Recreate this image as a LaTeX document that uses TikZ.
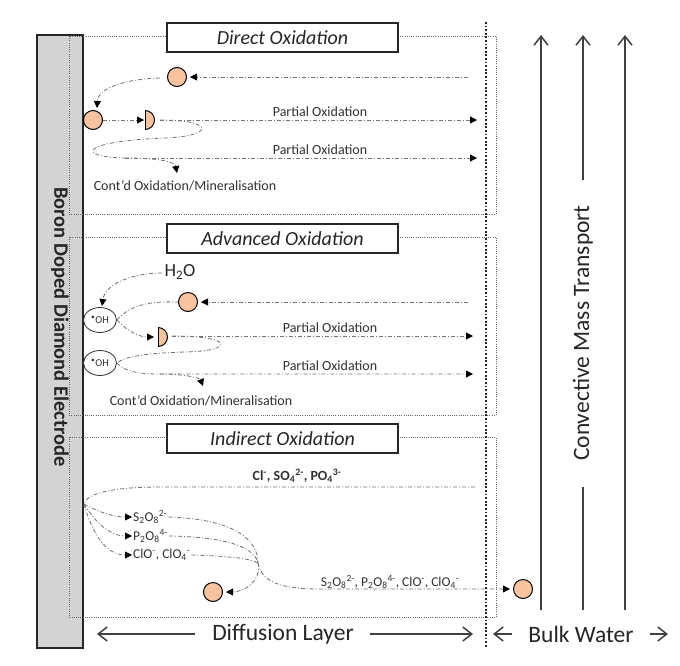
\documentclass[tikz,border=0pt]{standalone}
\usepackage{fontspec}
\setmainfont{Carlito}
\usetikzlibrary{arrows.meta,shapes.geometric}
\definecolor{peach}{RGB}{248,196,160}
\definecolor{elgray}{RGB}{211,211,211}
\definecolor{flowgray}{RGB}{115,115,115}
\definecolor{txt}{RGB}{50,50,50}
\newcommand{\halfdisc}[1]{%
  \begin{scope}
    \clip ([yshift=12pt]#1) rectangle ([xshift=12pt,yshift=-12pt]#1);
    \node[mol] at (#1) {};
  \end{scope}
  \draw[line width=1pt] ([yshift=9.5pt]#1) -- ([yshift=-9.5pt]#1);}
\begin{document}
\begin{tikzpicture}[x=1pt,y=-1pt,
  flow/.style={draw=flowgray, line width=0.8pt, dash pattern=on 4pt off 2pt on 1pt off 2pt},
  fl/.style={flow, -{Triangle[length=7pt,width=7pt,color=black]}},
  mol/.style={circle, draw=black, line width=1pt, fill=peach, minimum size=19pt, inner sep=0pt},
  oh/.style={ellipse, draw=txt, line width=0.8pt, fill=white, minimum width=33pt, minimum height=25pt, inner sep=0pt, font=\fontsize{10.5}{12}\selectfont, text=txt},
  panel/.style={draw=black!60, line width=0.9pt, dash pattern=on 1pt off 1.2pt},
  titlebox/.style={draw=black!85, line width=1.3pt, fill=white, minimum width=231pt, minimum height=29pt, inner sep=0pt, font=\fontsize{20}{23}\selectfont\itshape, text=black!85},
  boundary/.style={draw=black!85, line width=2.6pt, dash pattern=on 1.8pt off 1.8pt},
  conv/.style={draw=black!75, line width=1.5pt, -{Straight Barb[length=9pt,width=14pt]}},
  convline/.style={draw=black!75, line width=1.5pt},
  big/.style={font=\fontsize{23.5}{28}\selectfont, text=black!85, inner sep=0pt},
  lbl/.style={font=\fontsize{14}{16}\selectfont, text=txt, inner sep=1pt},
  sm/.style={font=\fontsize{13.5}{16}\selectfont, text=txt, inner sep=1pt},
  bl/.style={font=\fontsize{14}{16}\selectfont\bfseries, text=txt, inner sep=1pt}]
\useasboundingbox[fill=white] (0,0) rectangle (680,665);

% electrode
\draw[fill=elgray, draw=black!85, line width=1.5pt] (37,35) rectangle (83,648);
\node[rotate=-90, font=\fontsize{20.5}{24}\selectfont\bfseries, text=black!85] (elab) at (60,327) {Boron Doped Diamond Electrode};

% panels
\draw[panel] (69,36) rectangle (496,214);
\draw[panel] (69,237) rectangle (496,415);
\draw[panel] (69,437) rectangle (496,617);
\node[titlebox] (t1) at (282.5,37.5) {Direct Oxidation};
\node[titlebox] (t2) at (282.5,238.5) {Advanced Oxidation};
\node[titlebox] (t3) at (282.5,438.5) {Indirect Oxidation};

% boundary
\coordinate (bt) at (486,22);
\coordinate (bb) at (486,648);
\draw[boundary] (bt) -- (bb);

% convective arrows
\coordinate (c1b) at (541,610); \coordinate (c1t) at (541,35);
\coordinate (c2b) at (583,610); \coordinate (c2l) at (583,487);
\coordinate (c2m) at (583,180); \coordinate (c2t) at (583,35);
\coordinate (c3b) at (625,610); \coordinate (c3t) at (625,35);
\draw[conv] (c1b) -- (c1t);
\draw[conv] (c2m) -- (c2t);
\draw[convline] (c2b) -- (c2l);
\draw[conv] (c3b) -- (c3t);
\node[big, rotate=90] (cmt) at (583,333) {Convective Mass Transport};

% diffusion / bulk
\node[big] (dl) at (283,634) {Diffusion Layer};
\node[big] (bw) at (581,634) {Bulk Water};
\coordinate (dla) at (195,634); \coordinate (dlb) at (97,634);
\coordinate (dlc) at (370,634); \coordinate (dld) at (473,634);
\coordinate (bwa) at (512,634); \coordinate (bwb) at (493,634);
\coordinate (bwc) at (650,634); \coordinate (bwd) at (668,634);
\draw[conv] (dla) -- (dlb);
\draw[conv] (dlc) -- (dld);
\draw[conv] (bwa) -- (bwb);
\draw[conv] (bwc) -- (bwd);

% ---------- Direct oxidation
\node[mol] (d1) at (177,77) {};
\node[mol] (d2) at (93,120) {};
\coordinate (h1) at (145,120);
\coordinate (d1src) at (468,77);
\coordinate (d1l) at (160,78);
\coordinate (h1r) at (160,120);
\coordinate (p1) at (477,120);
\coordinate (dj) at (125,158);
\coordinate (p2) at (477,158);
\coordinate (m1) at (177,173);
\draw[fl, shorten >=3pt] (d1src) -- (d1);
\draw[fl] (d1l) .. controls (125,79) and (98,88) .. (97,108);
\draw[fl, shorten >=1pt] (d2) -- (h1);
\halfdisc{h1}
\draw[fl] (h1r) -- (p1);
\draw[flow] (h1r) .. controls (215,120) and (215,136) .. (165,138) .. controls (80,141) and (75,157) .. (dj);
\draw[fl] (dj) -- (p2);
\draw[fl] (dj) .. controls (160,158) and (175,162) .. (m1);
\node[lbl] (lp1) at (320,112) {Partial Oxidation};
\node[lbl] (lp2) at (320,150) {Partial Oxidation};
\node[lbl] (lc1) at (185,186) {Cont’d Oxidation/Mineralisation};

% ---------- Advanced oxidation
\node[font=\fontsize{18.5}{22}\selectfont, text=black!85, inner sep=1pt] (w) at (180,272) {H\textsubscript{2}O};
\node[oh] (o1) at (100,320) {\textsuperscript{\textbullet}OH};
\node[oh] (o2) at (100,363) {\textsuperscript{\textbullet}OH};
\node[mol] (a1) at (188,302) {};
\coordinate (a1src) at (468,302);
\coordinate (wl) at (162,273);
\coordinate (h2) at (158,337);
\coordinate (h2r) at (172,336);
\coordinate (p3) at (473,336);
\coordinate (dj2) at (160,374);
\coordinate (p4) at (473,374);
\coordinate (m2) at (203,386);
\draw[fl, shorten >=3pt] (a1src) -- (a1);
\draw[fl] (wl) .. controls (130,273) and (105,285) .. (102,306);
\draw[flow] (o1.east) .. controls (130,305) and (150,301) .. (a1.west);
\draw[fl, shorten >=4pt] (o1.east) .. controls (128,332) and (140,337) .. (h2);
\halfdisc{h2}
\draw[fl] (h2r) -- (p3);
\draw[flow] (h2r) .. controls (235,336) and (235,351) .. (185,352) .. controls (150,353) and (125,356) .. (o2.east);
\draw[fl] (o2.east) .. controls (125,372) and (140,374) .. (dj2) -- (p4);
\draw[fl] (dj2) .. controls (185,374) and (200,378) .. (m2);
\node[lbl] (lp3) at (330,328) {Partial Oxidation};
\node[lbl] (lp4) at (330,366) {Partial Oxidation};
\node[lbl] (lc2) at (201,401) {Cont’d Oxidation/Mineralisation};

% ---------- Indirect oxidation
\node[bl] (an) at (297,476) {Cl\textsuperscript{-}, SO\textsubscript{4}\textsuperscript{2-}, PO\textsubscript{4}\textsuperscript{3-}};
\coordinate (ansrc) at (475,487);
\coordinate (ej) at (84,504);
\draw[flow] (ansrc) -- (160,487) .. controls (110,487) and (86,494) .. (ej);
\node[sm, anchor=west] (s1) at (132,517) {S\textsubscript{2}O\textsubscript{8}\textsuperscript{2-}};
\node[sm, anchor=west] (s2) at (132,536) {P\textsubscript{2}O\textsubscript{8}\textsuperscript{4-}};
\node[sm, anchor=west] (s3) at (132,555) {ClO\textsuperscript{-}, ClO\textsubscript{4}\textsuperscript{-}};
\draw[fl] (ej) .. controls (100,513) and (115,517) .. (s1.west);
\draw[fl] (ej) .. controls (95,522) and (110,536) .. (s2.west);
\draw[fl] (ej) .. controls (92,532) and (105,555) .. (s3.west);
\coordinate (cv) at (258,563);
\draw[flow] (s1.east) .. controls (235,519) and (258,540) .. (cv);
\draw[flow] (s2.east) .. controls (235,537) and (255,550) .. (cv);
\draw[flow] (s3.east) .. controls (225,556) and (250,558) .. (cv);
\node[mol] (ic) at (213,592) {};
\node[mol] (bc) at (523,589) {};
\coordinate (cr) at (320,589);
\draw[fl, shorten >=3pt] (cv) .. controls (262,580) and (245,592) .. (ic);
\draw[fl, shorten >=3pt] (cv) .. controls (262,582) and (280,589) .. (cr) -- (bc);
\node[sm] (lall) at (390,582) {S\textsubscript{2}O\textsubscript{8}\textsuperscript{2-}, P\textsubscript{2}O\textsubscript{8}\textsuperscript{4-}, ClO\textsuperscript{-}, ClO\textsubscript{4}\textsuperscript{-}};
\end{tikzpicture}
\end{document}
